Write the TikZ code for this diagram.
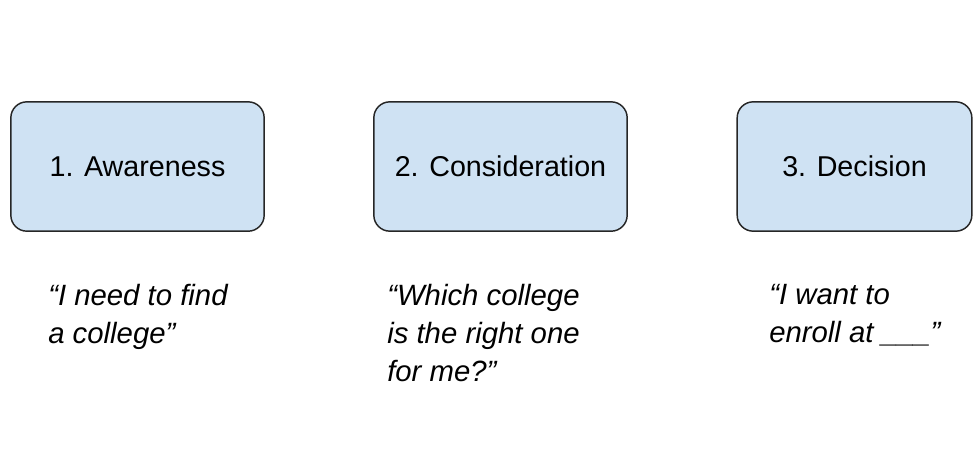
\documentclass[tikz,border=0pt]{standalone}
\usepackage{fontspec}
\setmainfont{Liberation Sans}
\definecolor{boxfill}{HTML}{CFE2F3}
\begin{document}
\begin{tikzpicture}[x=0.75pt,y=-0.75pt,
  stage/.style={draw=black!85,line width=1.1pt,fill=boxfill,rounded corners=12pt,minimum width=190pt,minimum height=97pt,font=\fontsize{21.5}{26}\selectfont,inner sep=0pt},
  quote/.style={anchor=north west,align=left,inner sep=0pt,font=\fontsize{22}{28.5}\selectfont\itshape}]
\useasboundingbox (0,0) rectangle (980,457);
\node[stage] (a) at (137.5,166.5) {1. Awareness};
\node[stage] (b) at (500.5,166.5) {2. Consideration};
\node[stage,minimum width=176pt] (c) at (854.5,166.5) {3. Decision};
\node[quote] (qa) at (48,284) {“I need to find\\a college”};
\node[quote] (qb) at (387,284) {“Which college\\is the right one\\for me?”};
\node[quote] (qc) at (769,284) {“I want to\\enroll at \_\_\_”};
\end{tikzpicture}
\end{document}
